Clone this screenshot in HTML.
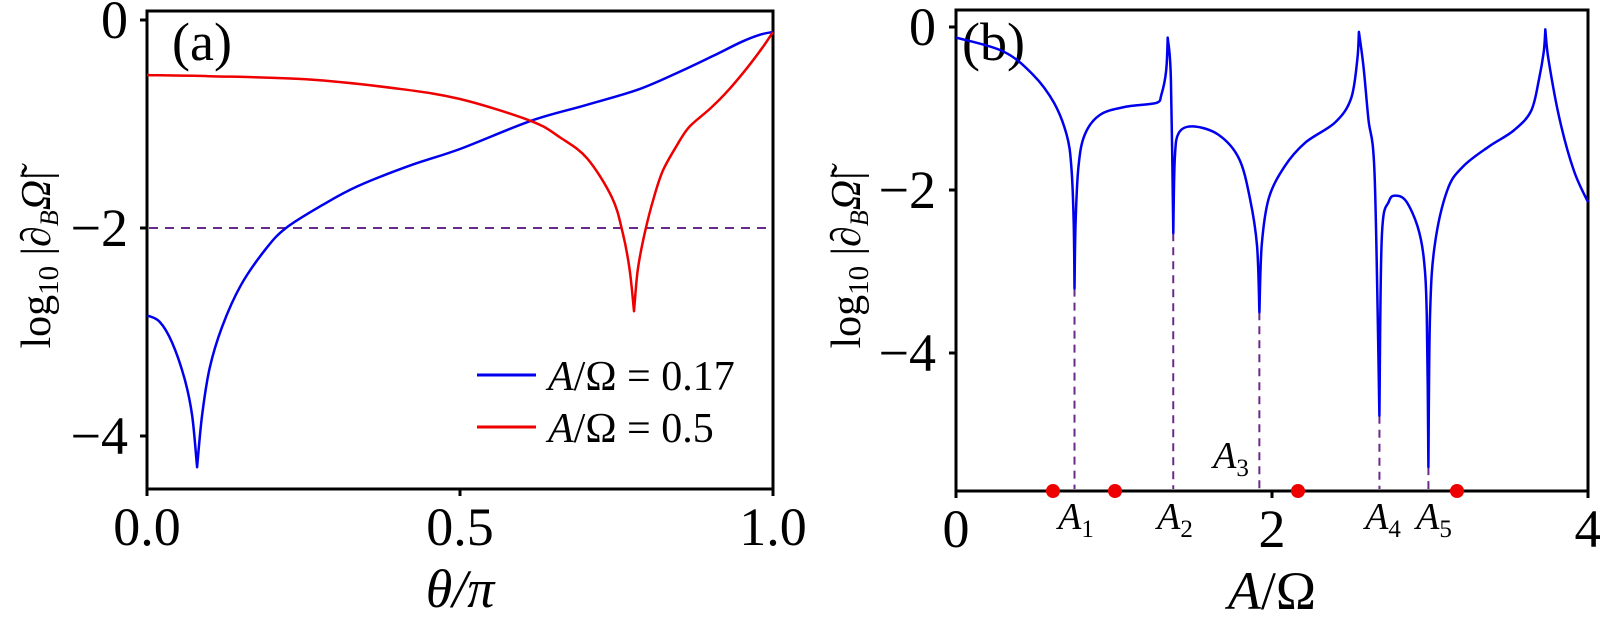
<!DOCTYPE html>
<html><head><meta charset="utf-8"><style>
html,body{margin:0;padding:0;background:#fff;}
svg{display:block;font-family:"Liberation Serif","DejaVu Serif",serif;}
</style></head><body>
<svg id="s" width="1600" height="622" viewBox="0 0 1600 622" xmlns="http://www.w3.org/2000/svg">
<rect x="147" y="11" width="626" height="478" fill="none" stroke="#000" stroke-width="3"/>
<line x1="147" y1="489" x2="147" y2="496" stroke="#000" stroke-width="3"/>
<line x1="460" y1="489" x2="460" y2="496" stroke="#000" stroke-width="3"/>
<line x1="773" y1="489" x2="773" y2="496" stroke="#000" stroke-width="3"/>
<line x1="140" y1="20" x2="147" y2="20" stroke="#000" stroke-width="3"/>
<line x1="140" y1="228" x2="147" y2="228" stroke="#000" stroke-width="3"/>
<line x1="140" y1="436" x2="147" y2="436" stroke="#000" stroke-width="3"/>
<line x1="149" y1="228" x2="771" y2="228" stroke="#6a2a8a" stroke-width="2" stroke-dasharray="9,7"/>
<g font-size="54" fill="#000">
<text x="128" y="38" text-anchor="end">0</text>
<text x="128" y="246" text-anchor="end">−2</text>
<text x="128" y="454" text-anchor="end">−4</text>
<text x="147" y="545" text-anchor="middle">0.0</text>
<text x="460" y="545" text-anchor="middle">0.5</text>
<text x="773" y="545" text-anchor="middle">1.0</text>
<text x="172" y="60">(a)</text>
<text x="460" y="607" text-anchor="middle" font-style="italic">θ/π</text>
</g>
<text transform="translate(50,260) rotate(-90)" font-size="42" text-anchor="middle">log<tspan font-size="29" dy="8">10</tspan><tspan dy="-8"> |<tspan font-style="italic">∂</tspan><tspan font-size="26" dy="8" font-style="italic">B</tspan><tspan dy="-8" font-style="italic">Ω̃</tspan>|</tspan></text>
<line x1="477" y1="375" x2="536" y2="375" stroke="#0000ee" stroke-width="3"/>
<line x1="477" y1="427" x2="536" y2="427" stroke="#ee0000" stroke-width="3"/>
<text x="548" y="390" font-size="42"><tspan font-style="italic">A</tspan>/Ω = 0.17</text>
<text x="548" y="442" font-size="42"><tspan font-style="italic">A</tspan>/Ω = 0.5</text>
<path id="blueA" fill="none" stroke="#0000ee" stroke-width="2.5" stroke-linejoin="round"/>
<path id="redA" fill="none" stroke="#ee0000" stroke-width="2.5" stroke-linejoin="round"/>

<rect x="956" y="10" width="632" height="481" fill="none" stroke="#000" stroke-width="3"/>
<line x1="956" y1="491" x2="956" y2="498" stroke="#000" stroke-width="3"/>
<line x1="1272" y1="491" x2="1272" y2="498" stroke="#000" stroke-width="3"/>
<line x1="1588" y1="491" x2="1588" y2="498" stroke="#000" stroke-width="3"/>
<line x1="949" y1="27" x2="956" y2="27" stroke="#000" stroke-width="3"/>
<line x1="949" y1="190" x2="956" y2="190" stroke="#000" stroke-width="3"/>
<line x1="949" y1="353" x2="956" y2="353" stroke="#000" stroke-width="3"/>
<g font-size="54" fill="#000">
<text x="936" y="45" text-anchor="end">0</text>
<text x="936" y="208" text-anchor="end">−2</text>
<text x="936" y="371" text-anchor="end">−4</text>
<text x="956" y="547" text-anchor="middle">0</text>
<text x="1272" y="547" text-anchor="middle">2</text>
<text x="1588" y="547" text-anchor="middle">4</text>
<text x="962" y="60">(b)</text>
<text x="1272" y="609" text-anchor="middle"><tspan font-style="italic">A</tspan>/Ω</text>
</g>
<text transform="translate(860,260) rotate(-90)" font-size="42" text-anchor="middle">log<tspan font-size="29" dy="8">10</tspan><tspan dy="-8"> |<tspan font-style="italic">∂</tspan><tspan font-size="26" dy="8" font-style="italic">B</tspan><tspan dy="-8" font-style="italic">Ω̃</tspan>|</tspan></text>
<g id="dashB" stroke="#6a2a8a" stroke-width="2" stroke-dasharray="8,6"></g>
<path id="blueB" fill="none" stroke="#0000ee" stroke-width="2.5" stroke-linejoin="round"/>
<g fill="#ee0000">
<circle cx="1053" cy="491" r="7"/><circle cx="1115" cy="491" r="7"/>
<circle cx="1298" cy="491" r="7"/><circle cx="1457" cy="491" r="7"/>
</g>
<g font-size="38" font-style="italic">
<text x="1076" y="529" text-anchor="middle">A<tspan font-size="25" dy="8" font-style="normal">1</tspan></text>
<text x="1175" y="529" text-anchor="middle">A<tspan font-size="25" dy="8" font-style="normal">2</tspan></text>
<text x="1231" y="468" text-anchor="middle">A<tspan font-size="25" dy="8" font-style="normal">3</tspan></text>
<text x="1383" y="529" text-anchor="middle">A<tspan font-size="25" dy="8" font-style="normal">4</tspan></text>
<text x="1434" y="529" text-anchor="middle">A<tspan font-size="25" dy="8" font-style="normal">5</tspan></text>
</g>
</svg>
<script>
// points: [x, y, cusp?]
function spline(d,fx,fy){
  var P=d.map(p=>[fx(p[0]),fy(p[1]),p[2]]);
  var out="M"+P[0][0].toFixed(1)+","+P[0][1].toFixed(1);
  // split into segments at cusps
  var segs=[],cur=[P[0]];
  for(var i=1;i<P.length;i++){cur.push(P[i]);if(P[i][2]&&i<P.length-1){segs.push(cur);cur=[P[i]];}}
  segs.push(cur);
  segs.forEach(function(S){
    for(var i=0;i<S.length-1;i++){
      var p0=S[i>0?i-1:i],p1=S[i],p2=S[i+1],p3=S[i+2<S.length?i+2:i+1];
      var t=0.5/3;
      var c1x=p1[0]+(p2[0]-p0[0])*t,c1y=p1[1]+(p2[1]-p0[1])*t;
      var c2x=p2[0]-(p3[0]-p1[0])*t,c2y=p2[1]-(p3[1]-p1[1])*t;
      // keep control x within segment
      c1x=Math.min(Math.max(c1x,Math.min(p1[0],p2[0])),Math.max(p1[0],p2[0]));
      c2x=Math.min(Math.max(c2x,Math.min(p1[0],p2[0])),Math.max(p1[0],p2[0]));
      out+=" C"+c1x.toFixed(1)+","+c1y.toFixed(1)+" "+c2x.toFixed(1)+","+c2y.toFixed(1)+" "+p2[0].toFixed(1)+","+p2[1].toFixed(1);
    }
  });
  return out;
}
var ax=t=>147+626*t, ay=v=>20-104*v;
var blueA=[[0,-2.84],[0.02,-2.9],[0.04,-3.1],[0.06,-3.45],[0.072,-3.8],[0.08,-4.3,1],[0.088,-3.8],[0.1,-3.35],[0.12,-2.95],[0.15,-2.55],[0.19,-2.2],[0.222,-2],[0.28,-1.78],[0.336,-1.6],[0.42,-1.4],[0.5,-1.24],[0.613,-0.97],[0.7,-0.82],[0.784,-0.67],[0.85,-0.5],[0.906,-0.34],[0.95,-0.21],[0.98,-0.14],[1,-0.115]];
var redA=[[0,-0.53],[0.1,-0.54],[0.254,-0.57],[0.4,-0.66],[0.5,-0.76],[0.613,-0.97],[0.66,-1.13],[0.703,-1.33],[0.743,-1.71],[0.76,-2.05],[0.771,-2.4],[0.778,-2.8,1],[0.784,-2.4],[0.795,-2.05],[0.81,-1.7],[0.824,-1.45],[0.845,-1.22],[0.866,-1.03],[0.9,-0.85],[0.928,-0.68],[0.96,-0.45],[0.985,-0.25],[1,-0.115]];
document.getElementById("blueA").setAttribute("d",spline(blueA,ax,ay));
document.getElementById("redA").setAttribute("d",spline(redA,ax,ay));
var bx=a=>956+158*a, by=v=>27-81.5*v;
var blueB=[[0,-0.13],[0.3,-0.3],[0.49,-0.59],[0.62,-0.93],[0.7,-1.32],[0.73,-1.71],[0.745,-2.4],[0.75,-3.21,1],[0.757,-2.4],[0.775,-1.71],[0.815,-1.32],[0.91,-1.08],[1.07,-0.98],[1.27,-0.93],[1.3,-0.83],[1.33,-0.54],[1.34,-0.13,1],[1.36,-0.64],[1.375,-2.53,1],[1.385,-1.61],[1.41,-1.3],[1.5,-1.22],[1.66,-1.32],[1.79,-1.61],[1.86,-2.1],[1.905,-2.68],[1.92,-3.5,1],[1.935,-2.68],[1.98,-2.1],[2.08,-1.71],[2.21,-1.42],[2.4,-1.17],[2.5,-0.88],[2.54,-0.4],[2.55,-0.06,1],[2.58,-0.5],[2.61,-1.13],[2.65,-1.85],[2.68,-4.77,1],[2.695,-2.58],[2.74,-2.14],[2.79,-2.07],[2.85,-2.14],[2.92,-2.44],[2.96,-2.83],[2.98,-3.55],[2.99,-5.4,1],[3.0,-3.55],[3.03,-2.68],[3.11,-2.0],[3.21,-1.71],[3.37,-1.47],[3.53,-1.27],[3.64,-1.03],[3.69,-0.64],[3.72,-0.3],[3.73,-0.03,1],[3.75,-0.4],[3.82,-1.13],[3.91,-1.76],[4.0,-2.15]];
document.getElementById("blueB").setAttribute("d",spline(blueB,bx,by));
var g=document.getElementById("dashB");
[[0.75,-3.21],[1.375,-2.53],[1.92,-3.5],[2.68,-4.77],[2.99,-5.4]].forEach(function(p){
var l=document.createElementNS("http://www.w3.org/2000/svg","line");
l.setAttribute("x1",bx(p[0]));l.setAttribute("x2",bx(p[0]));
l.setAttribute("y1",by(p[1]));l.setAttribute("y2",489);g.appendChild(l);});
</script>
</body></html>
